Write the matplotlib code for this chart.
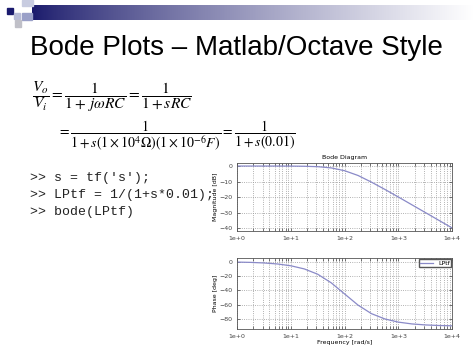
import matplotlib.pyplot as plt
import numpy as np

plt.rcParams["mathtext.fontset"] = "stix"

# ── data ────────────────────────────────────────────────────────────────────
freq = [1, 1.78, 3.16, 5.62, 10, 17.8, 31.6, 56.2, 100, 178, 316, 562,
        1000, 1778, 3162, 5623, 10000]
mag_db = [0.0, 0.0, 0.0, -0.01, -0.04, -0.14, -0.41, -1.19, -3.01, -6.1,
          -10.4, -15.1, -20.0, -25.0, -30.0, -35.0, -40.0]
phase_deg = [-0.6, -1.0, -1.8, -3.2, -5.7, -10.1, -17.5, -29.4, -45.0,
             -60.6, -72.5, -79.9, -84.3, -86.8, -88.2, -89.0, -89.4]
xtick_vals = [1, 10, 100, 1000, 10000]
xtick_labels = ["1e+0", "1e+1", "1e+2", "1e+3", "1e+4"]
mag_ticks = [0, -10, -20, -30, -40]
phase_ticks = [0, -20, -40, -60, -80]

W, H = 474, 355
fig = plt.figure(figsize=(W / 100, H / 100), dpi=100)

# ── slide decoration (pixel coordinates) ────────────────────────────────────
deco = fig.add_axes([0, 0, 1, 1])
deco.set_xlim(0, W)
deco.set_ylim(H, 0)
deco.axis("off")

grad = np.linspace(0, 1, 256).reshape(1, -1)
navy = np.array([0.10, 0.10, 0.42])
white = np.array([1.0, 1.0, 1.0])
img = navy + (white - navy) * grad[..., None] ** 0.8
deco.imshow(img, extent=[32, W, 20, 5], aspect="auto", zorder=1)

squares = [
    (7, 8, 6, 6, "#1a1a6e"),
    (14, 13, 6, 6, "#b8bcd8"),
    (22, 0, 11, 6, "#c8cce0"),
    (22, 13, 10, 7, "#9aa0c8"),
    (15, 20, 6, 7, "#c0c0c8"),
]
for x0, y0, w, h, c in squares:
    deco.add_patch(plt.Rectangle((x0, y0), w, h, color=c, zorder=2))

deco.text(30, 48, "Bode Plots – Matlab/Octave Style", fontsize=20,
          family="Liberation Sans", va="center", ha="left")

deco.text(32, 97, r"$\dfrac{V_o}{V_i}=\dfrac{1}{1+\,j\omega RC}=\dfrac{1}{1+sRC}$",
          fontsize=11.2, va="center", ha="left")
deco.text(57, 136,
          r"$=\dfrac{1}{1+s(1\times10^4\Omega)(1\times10^{-6}F)}=\dfrac{1}{1+s(0.01)}$",
          fontsize=10, va="center", ha="left")

code = [">> s = tf('s');", ">> LPtf = 1/(1+s*0.01);", ">> bode(LPtf)"]
for i, line in enumerate(code):
    deco.text(30, 178 + 17 * i, line, fontsize=9.5, family="Liberation Mono",
              va="center", ha="left", color="#222222")


# ── Bode plots ──────────────────────────────────────────────────────────────
def style_ax(ax, yticks):
    ax.set_xscale("log")
    ax.set_xlim(1, 10000)
    ax.set_xticks(xtick_vals)
    ax.set_xticklabels(xtick_labels)
    ax.set_yticks(yticks)
    ax.grid(True, which="major", color="#999999", linestyle=":", linewidth=0.6)
    ax.grid(True, which="minor", axis="x", color="#999999", linestyle=":",
            linewidth=0.6)
    ax.tick_params(which="both", direction="in", labelsize=4.5, length=2,
                   width=0.5, colors="#444444", top=True, right=True)
    for sp in ax.spines.values():
        sp.set_color("#555555")
        sp.set_linewidth(0.6)


ax1 = fig.add_axes([0.5, 0.349, 0.454, 0.192])
ax1.plot(freq, mag_db, color="#8a8ac8", linewidth=0.9)
ax1.set_ylim(-42, 2)
style_ax(ax1, mag_ticks)
ax1.set_ylabel("Magnitude [dB]", fontsize=4.5, labelpad=1)
ax1.set_title("Bode Diagram", fontsize=4.5, pad=3)

ax2 = fig.add_axes([0.5, 0.073, 0.454, 0.200])
ax2.plot(freq, phase_deg, color="#8a8ac8", linewidth=0.9, label="LPtf")
ax2.set_ylim(-94, 5)
style_ax(ax2, phase_ticks)
ax2.set_ylabel("Phase [deg]", fontsize=4.5, labelpad=1)
ax2.set_xlabel("Frequency [rad/s]", fontsize=4.5, labelpad=1)
ax2.legend(loc="upper right", fontsize=4.5, handlelength=2, borderpad=0.2,
           fancybox=False, edgecolor="#555555", framealpha=1,
           borderaxespad=0.2)

fig.savefig("out.png", dpi=100)
